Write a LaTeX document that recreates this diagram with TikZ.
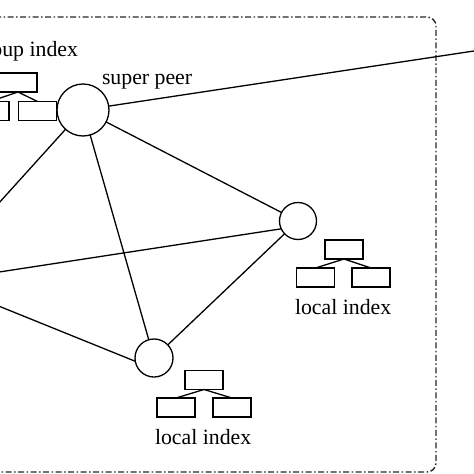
\documentclass[tikz,border=0pt]{standalone}
\usepackage{fontspec}
\setmainfont{Liberation Serif}
\begin{document}
\begin{tikzpicture}[x=1pt,y=-1pt,
  every node/.style={inner sep=0pt,outer sep=0pt},
  peer/.style={draw,circle,line width=1.3pt},
  ibox/.style={draw,rectangle,minimum width=38pt,minimum height=19pt,line width=1.3pt},
  link/.style={line width=1.3pt},
  tlink/.style={line width=1.3pt},
  lbl/.style={font=\fontsize{21.8}{24}\selectfont},
  frame/.style={line width=1.4pt,black!85,dash pattern=on 6pt off 2.5pt on 1.5pt off 2.5pt,rounded corners=9pt}
]
\useasboundingbox (0,0) rectangle (474,474);
\clip (0,0) rectangle (474,474);

% dash-dot frame
\draw[frame] (-30,17) -- (436,17) -- (436,472) -- (-30,472);

% peers
\node[peer,minimum size=52pt] (sp) at (83,110) {};
\node[peer,minimum size=37pt] (rp) at (298,221) {};
\node[peer,minimum size=38pt] (bp) at (154,358) {};

% free ends outside the picture
\coordinate (farR) at (560,38);
\coordinate (farL1) at (-30,235);
\coordinate (farL2) at (-40,278);
\coordinate (farL3) at (-40,290.4);

% connectors
\draw[link] (sp) -- (farR);
\draw[link] (sp) -- (farL1);
\draw[link] (sp) -- (rp);
\draw[link] (sp) -- (bp);
\draw[link] (bp) -- (rp);
\draw[link] (farL2) -- (rp.205);
\draw[link] (farL3) -- (bp.190);

% group index tree
\node[ibox] (gt) at (18,82.5) {};
\node[ibox] (gb1) at (-10,111) {};
\node[ibox] (gb2) at (37.5,111) {};
\draw[tlink] (gt.south) -- (gb1.north);
\draw[tlink] (gt.south) -- (gb2.north);

% right local index tree
\node[ibox] (rt) at (344,249.5) {};
\node[ibox] (rb1) at (315.5,277.5) {};
\node[ibox] (rb2) at (371,277.5) {};
\draw[tlink] (rt.south) -- (rb1.north);
\draw[tlink] (rt.south) -- (rb2.north);

% bottom local index tree
\node[ibox] (bt) at (204,380) {};
\node[ibox] (bb1) at (176,407.5) {};
\node[ibox] (bb2) at (232,407.5) {};
\draw[tlink] (bt.south) -- (bb1.north);
\draw[tlink] (bt.south) -- (bb2.north);

% labels
\node[lbl,anchor=base east] (gl) at (78,56) {group index};
\node[lbl,anchor=base west] (sl) at (102,84) {super peer};
\node[lbl,anchor=base west] (rl) at (295,314) {local index};
\node[lbl,anchor=base west] (bl) at (155,444) {local index};
\end{tikzpicture}
\end{document}
